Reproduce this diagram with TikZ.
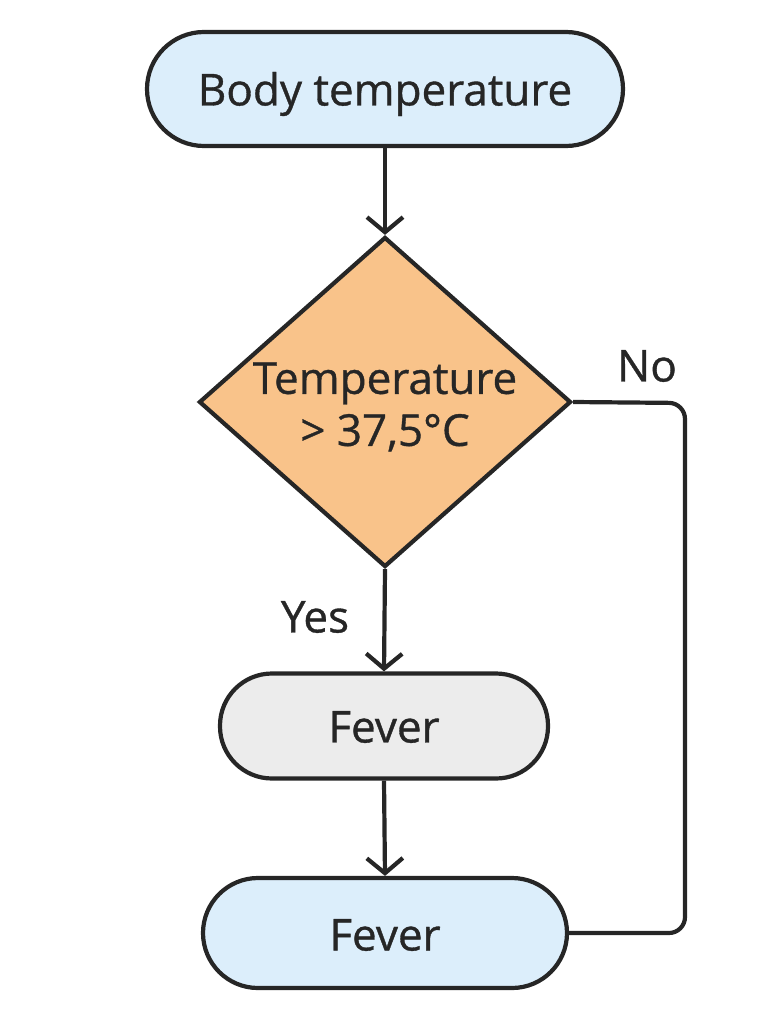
\documentclass[tikz,border=0pt]{standalone}
\usepackage{fontspec}
\setmainfont{Open Sans}[FakeBold=0.8]
\usetikzlibrary{shapes.geometric,arrows.meta}
\definecolor{strokec}{HTML}{262626}
\definecolor{bluef}{HTML}{DCEEFB}
\definecolor{greyf}{HTML}{ECECEC}
\definecolor{orangef}{HTML}{F9C38A}
\tikzset{
  term/.style={draw=strokec, line width=4.2pt, rounded corners=#1, inner sep=0pt},
  dec/.style={draw=strokec, line width=4.2pt, shape=diamond, fill=orangef, inner sep=0pt, aspect=1.127, minimum width=372pt, minimum height=330pt},
  conn/.style={draw=strokec, line width=4.2pt},
  arr/.style={conn, -{Straight Barb[length=15pt,width=36pt,line width=4.2pt]}},
  lbl/.style={font=\fontsize{44}{52}\selectfont, text=strokec, inner sep=0pt, align=center}
}
\begin{document}
\begin{tikzpicture}[x=1pt,y=-1pt]
\useasboundingbox (0,0) rectangle (768,1024);
\node[term=57pt, fill=bluef, minimum width=476pt, minimum height=114pt,
  label={[lbl,yshift=-5pt]center:Body temperature}] (start) at (385,89) {};
\node[dec, label={[lbl,yshift=-5pt]center:Temperature\\> 37,5°C}] (cond) at (385,402) {};
\node[term=52pt, fill=greyf, minimum width=328pt, minimum height=105pt,
  label={[lbl,yshift=-1pt]center:Fever}] (fev1) at (384,726) {};
\node[term=55pt, fill=bluef, minimum width=364pt, minimum height=110pt,
  label={[lbl,yshift=-2pt]center:Fever}] (fev2) at (385,933) {};
\coordinate (c1) at (685,403);
\coordinate (c2) at (685,933);
\draw[arr] (start.south) -- (cond.north);
\draw[arr] (cond.south) -- (fev1.north);
\draw[arr] (fev1.south) -- (fev2.north);
\draw[conn, rounded corners=16pt] (cond.east) -- (c1) -- (c2) -- (fev2.east);
\node[lbl] (no) at (647,366) {No};
\node[lbl] (yes) at (315,617) {Yes};
\end{tikzpicture}
\end{document}
